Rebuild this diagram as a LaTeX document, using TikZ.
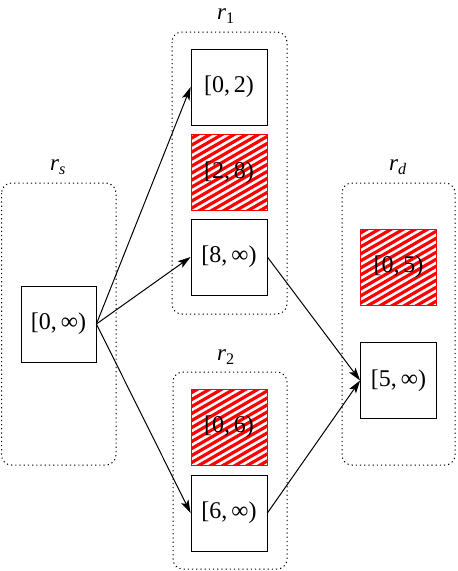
\documentclass[tikz,border=0pt]{standalone}
\usepackage{fontspec}
\setmainfont{Liberation Serif}
\usetikzlibrary{arrows.meta}
\newcommand\myhatch[2]{%
  \begin{scope}
    \clip (#1-38,#2-38) rectangle (#1+38,#2+38);
    \foreach \i in {-11,...,11}
      \draw[hatchline] (#1-60,#2+\i*7+34.64) -- (#1+60,#2+\i*7-34.64);
  \end{scope}}
\begin{document}
\begin{tikzpicture}[x=1pt,y=-1pt,
  box/.style={draw=black,line width=0.8pt,minimum width=76pt,minimum height=76pt,inner sep=0pt,font=\fontsize{24}{26}\selectfont},
  hatched/.style={box,draw=red},
  hatchline/.style={draw=red,line width=3.2pt},
  region/.style={draw=black,dash pattern=on 1.2pt off 3pt,line width=1pt,rounded corners=10pt},
  rlabel/.style={font=\fontsize{23}{25}\selectfont,inner sep=0pt},
  arr/.style={-{Stealth[length=13pt,width=8pt,inset=3pt]},line width=1pt}]
\useasboundingbox (0,0) rectangle (458,571);
% regions
\draw[region] (1.5,183) rectangle (116,465);
\draw[region] (172,32) rectangle (287,314);
\draw[region] (173,372) rectangle (287,569);
\draw[region] (342,183) rectangle (455,465);
% labels
\node[rlabel] (ls) at (58,167) {\textit{r}\textsubscript{\textit{s}}};
\node[rlabel] (l1) at (226,16) {\textit{r}\textsubscript{1}};
\node[rlabel] (l2) at (226,357) {\textit{r}\textsubscript{2}};
\node[rlabel] (ld) at (398,167) {\textit{r}\textsubscript{\textit{d}}};
% hatching
\myhatch{229}{172.5}
\myhatch{229}{427}
\myhatch{398.5}{267}
% boxes
\node[box,minimum width=75pt] (s) at (58.5,324) {[0,\,∞)};
\node[box] (a) at (229,87) {[0,\,2)};
\node[hatched] (b) at (229,172.5) {[2,\,8)};
\node[box] (c) at (229,257) {[8,\,∞)};
\node[hatched] (d) at (229,427) {[0,\,6)};
\node[box] (e) at (229,513) {[6,\,∞)};
\node[hatched] (f) at (398.5,267) {[0,\,5)};
\node[box] (g) at (398.5,380.5) {[5,\,∞)};
% arrows
\draw[arr] (s.east) -- (a.west);
\draw[arr] (s.east) -- (c.west);
\draw[arr] (s.east) -- (e.west);
\draw[arr] (c.east) -- (g.west);
\draw[arr] (e.east) -- (g.west);
\end{tikzpicture}
\end{document}
